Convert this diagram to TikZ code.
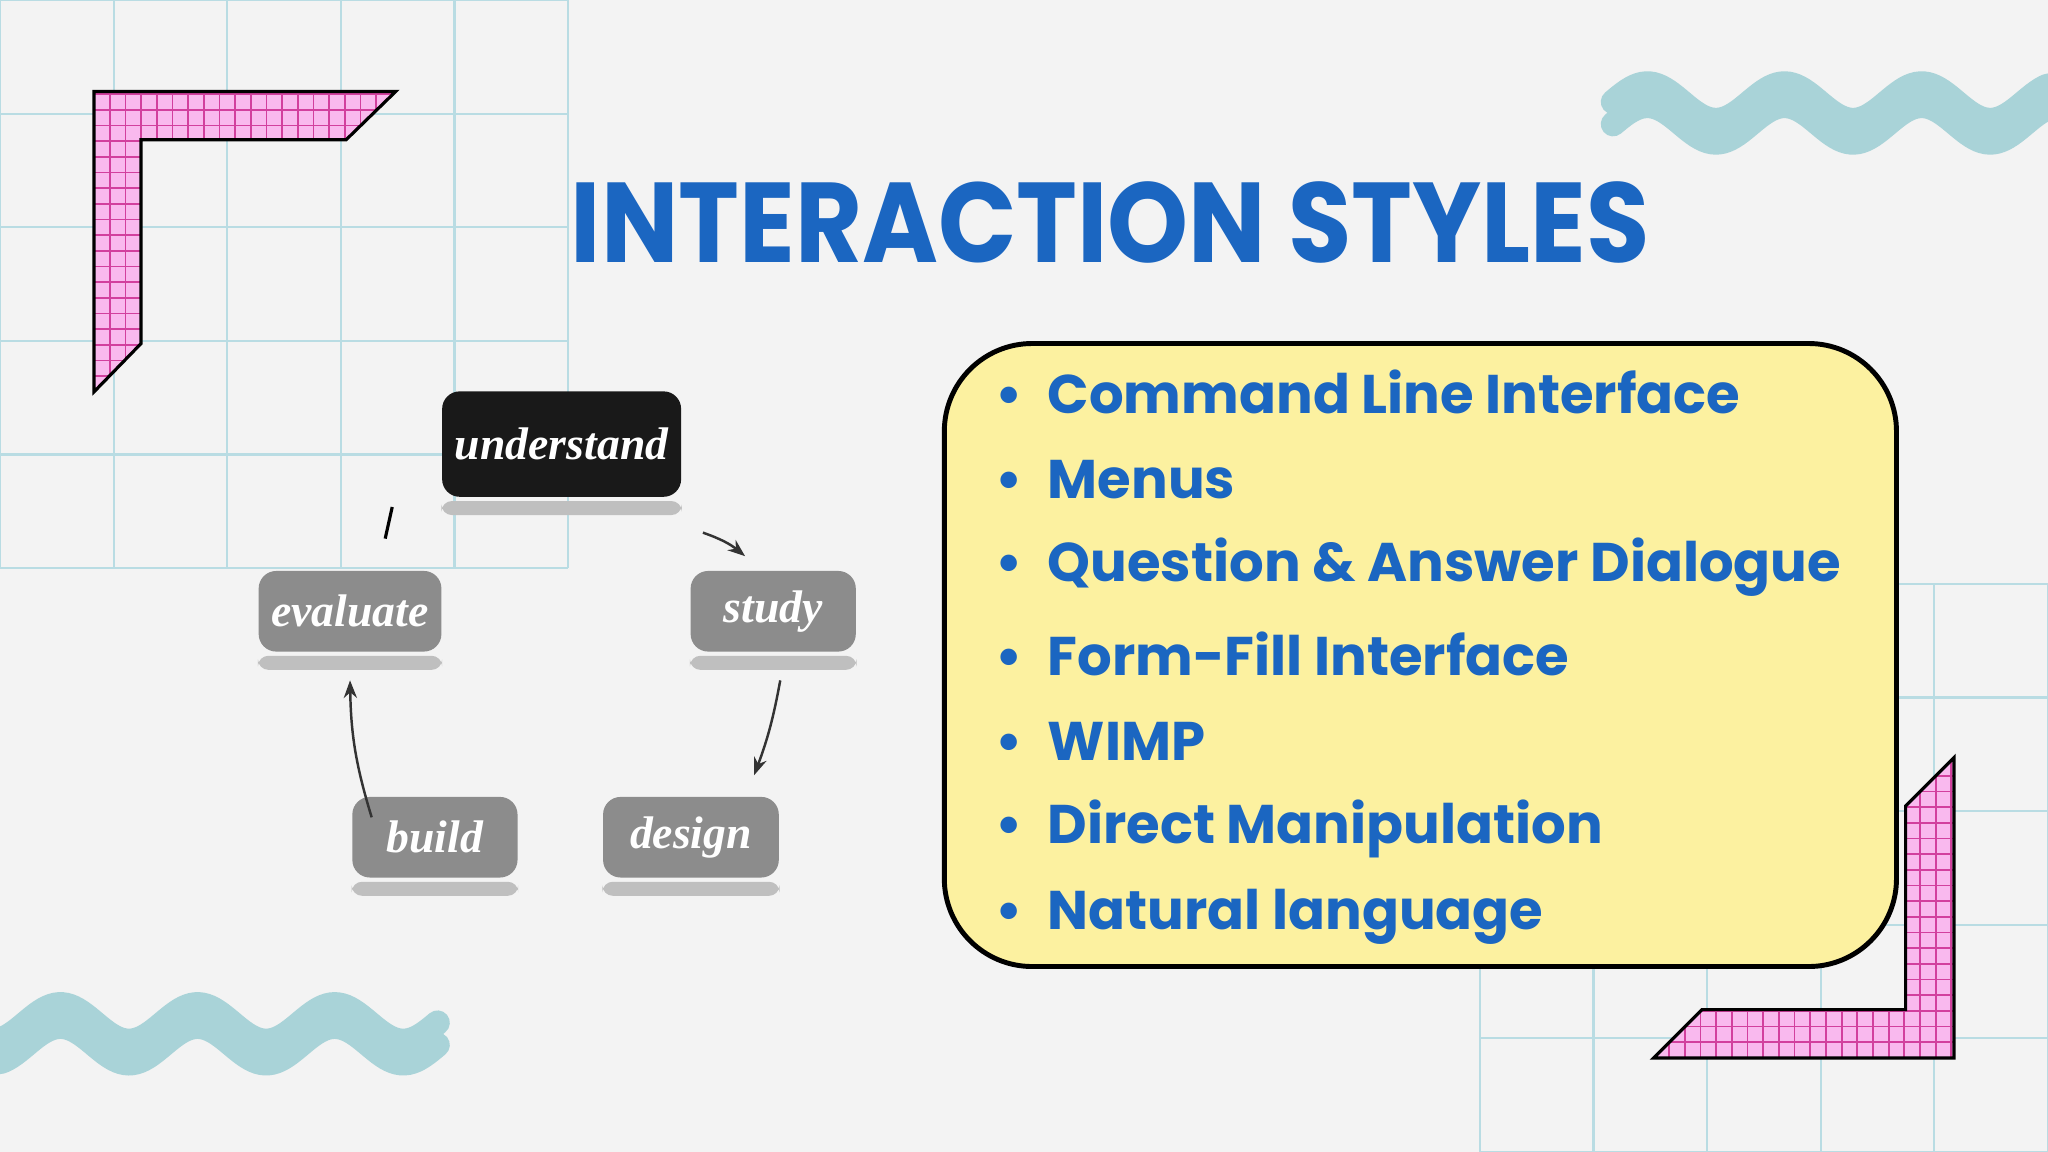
\documentclass[tikz,border=0pt]{standalone}
\usepackage{fontspec}
\setmainfont{Liberation Serif}
\newfontfamily\popf{Poppins}
\usetikzlibrary{arrows.meta}
\definecolor{bg}{HTML}{F3F3F3}
\definecolor{gridc}{HTML}{B9DCE3}
\definecolor{pinkc}{HTML}{F9B9EE}
\definecolor{pinkl}{HTML}{D2409E}
\definecolor{wavec}{HTML}{A9D3D8}
\definecolor{titlec}{HTML}{1B66C1}
\definecolor{boxy}{HTML}{FCF1A0}
\definecolor{grayn}{HTML}{8C8C8C}
\tikzset{
  gridl/.style={gridc,line width=0.6pt},
  wave/.style={wavec,line width=7pt,line cap=round},
  graybox/.style={rounded corners=5pt,fill=grayn,minimum width=#1,minimum height=62pt*0.37,text=white,font=\fontsize{13}{13}\selectfont\bfseries\itshape,inner sep=0pt},
  arr/.style={-{Stealth[length=5pt]},line width=0.7pt,black!80},
  bul/.style={anchor=west,text=titlec,font=\popf\fontsize{15.5}{16}\selectfont\bfseries,inner sep=0pt}
}
\begin{document}
\begin{tikzpicture}[x=0.013061cm,y=-0.013061cm]
\useasboundingbox (0,0) rectangle (1568,882);
\fill[bg] (0,0) rectangle (1568,882);
% grids
\foreach \v in {0,87,174,261,348,435}{\draw[gridl] (\v,0)--(\v,435); \draw[gridl] (0,\v)--(435,\v);}
\foreach \v in {1133,1220,1307,1394,1481,1568}{\draw[gridl] (\v,447)--(\v,882);}
\foreach \v in {447,534,621,708,795,882}{\draw[gridl] (1133,\v)--(1568,\v);}
% waves
\draw[wave] plot[domain=0:333,samples=120] ({1235+\x},{78-14*sin(3.4286*\x)});
\draw[wave] plot[domain=0:333,samples=120] ({1235+\x},{95-14*sin(3.4286*\x)});
\draw[wave] plot[domain=0:335,samples=120] (\x,{783-14*sin(3.4286*(\x-20))});
\draw[wave] plot[domain=0:335,samples=120] (\x,{800-14*sin(3.4286*(\x-20))});
% pink corners
\begin{scope}
\path[clip] (72,70)--(303,70)--(265,107)--(108,107)--(108,263)--(72,300)--cycle;
\fill[pinkc] (60,60) rectangle (310,310);
\foreach \v in {72,84,...,310}{\draw[pinkl,line width=0.5pt] (\v,60)--(\v,310); \draw[pinkl,line width=0.5pt] (60,\v)--(310,\v);}
\end{scope}
\draw[line width=0.9pt] (72,70)--(303,70)--(265,107)--(108,107)--(108,263)--(72,300)--cycle;
\begin{scope}
\path[clip] (1496,580)--(1496,810)--(1266,810)--(1303,773)--(1459,773)--(1459,617)--cycle;
\fill[pinkc] (1260,575) rectangle (1500,815);
\foreach \v in {1266,1278,...,1500}{\draw[pinkl,line width=0.5pt] (\v,575)--(\v,815);}
\foreach \v in {582,594,...,815}{\draw[pinkl,line width=0.5pt] (1260,\v)--(1500,\v);}
\end{scope}
\draw[line width=0.9pt] (1496,580)--(1496,810)--(1266,810)--(1303,773)--(1459,773)--(1459,617)--cycle;
% title
\node[text=titlec,inner sep=0pt] (title) at (850,170) {\resizebox{307pt}{23pt}{\popf\bfseries INTERACTION STYLES}};
% yellow box
\draw[fill=boxy,line width=1.4pt,rounded corners=25pt] (723,263) rectangle (1452,740);
\foreach \t [count=\i] in {Command Line Interface,Menus,Question \& Answer Dialogue,Form-Fill Interface,WIMP,Direct Manipulation,Natural language}{
  \node[bul] (b\i) at (762,{300+67*(\i-1)}) {\textbullet\hspace{0.45em}\t};
}
% cycle diagram
\node[graybox=68pt,fill=black!90,minimum height=30pt] (und) at (430,340) {understand};
\node[graybox=47pt] (stu) at (592,468) {study};
\node[graybox=50pt] (des) at (529,641) {design};
\node[graybox=47pt] (bui) at (333,641) {build};
\node[graybox=52pt] (eva) at (268,468) {evaluate};
\foreach \n in {und,stu,des,bui,eva}{\fill[black!25,rounded corners=3pt] ([yshift=-1pt]\n.south west) rectangle ([yshift=-5pt]\n.south east);}
\draw[arr] ([xshift=6pt,yshift=-10pt]und.south east) to[bend left=10] ([xshift=-8pt,yshift=4pt]stu.north);
\draw[arr] ([xshift=2pt,yshift=-8pt]stu.south) to[bend left=5] ([xshift=18pt,yshift=6pt]des.north);
\draw[arr] ([xshift=-18pt,yshift=-6pt]bui.north) to[bend left=8] ([yshift=-8pt]eva.south);
\draw[line width=0.9pt] ([xshift=10pt,yshift=9pt]eva.north) -- ([xshift=12pt,yshift=18pt]eva.north);
\end{tikzpicture}
\end{document}
